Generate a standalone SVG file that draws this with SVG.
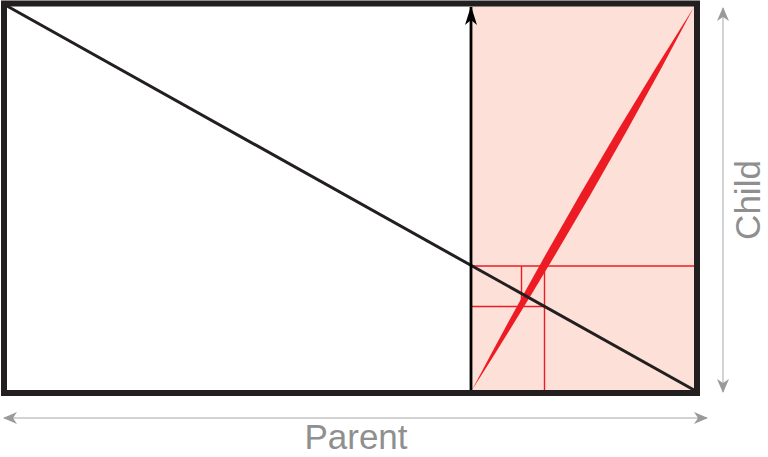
<svg xmlns="http://www.w3.org/2000/svg" width="768" height="457" viewBox="0 0 768 457">
  <style>
    .frame { fill: none; stroke: #231f20; stroke-width: 6; }
    .grid { stroke: #ed1c24; stroke-width: 1.4; fill: none; }
    .dim { stroke: #c4c4c4; stroke-width: 1.5; fill: none; }
    .label { font-family: "Liberation Sans", Arial, Helvetica, sans-serif; font-size: 35px; fill: #8f8f8f; }
  </style>
  <defs>
    <marker id="grayHead" viewBox="0 0 14 12" refX="13" refY="6" markerWidth="14" markerHeight="12" markerUnits="userSpaceOnUse" orient="auto-start-reverse">
      <path d="M0,0 L14,6 L0,12 L4,6 Z" fill="#9a9a9a"/>
    </marker>
    <marker id="blackHead" viewBox="0 0 19 12" refX="18" refY="6" markerWidth="19" markerHeight="12" markerUnits="userSpaceOnUse" orient="auto">
      <path d="M0,0 L19,6 L0,12 L5,6 Z" fill="#000000"/>
    </marker>
  </defs>
  <rect width="768" height="457" fill="#ffffff"/>

  <g id="child-panel">
    <rect x="471" y="6" width="223" height="384" fill="#fde0d7"/>
  </g>

  <g id="grid-lines">
    <line class="grid" x1="471" y1="266" x2="694" y2="266"/>
    <line class="grid" x1="544.5" y1="266" x2="544.5" y2="390"/>
    <line class="grid" x1="471" y1="306.5" x2="544.5" y2="306.5"/>
    <line class="grid" x1="521.5" y1="266" x2="521.5" y2="306.5"/>
  </g>

  <g id="spiral">
    <path d="M472,390 Q591,203 694,7 Q575,194 472,390 Z" fill="#ed1c24"/>
  </g>

  <g id="connectors">
    <line x1="7" y1="6" x2="694" y2="390" stroke="#231f20" stroke-width="3"/>
    <line x1="471" y1="390" x2="471" y2="7" stroke="#000000" stroke-width="2.8" marker-end="url(#blackHead)"/>
    <line class="dim" x1="4" y1="418" x2="707" y2="418" marker-start="url(#grayHead)" marker-end="url(#grayHead)"/>
    <line class="dim" x1="723" y1="8" x2="723" y2="392" marker-start="url(#grayHead)" marker-end="url(#grayHead)"/>
  </g>

  <g id="parent-frame">
    <rect class="frame" x="4" y="3.5" width="693" height="389.5"/>
  </g>

  <g id="labels">
    <text class="label" x="356" y="449" text-anchor="middle">Parent</text>
    <text class="label" x="0" y="0" text-anchor="middle" transform="translate(760,200) rotate(-90)">Child</text>
  </g>
</svg>
